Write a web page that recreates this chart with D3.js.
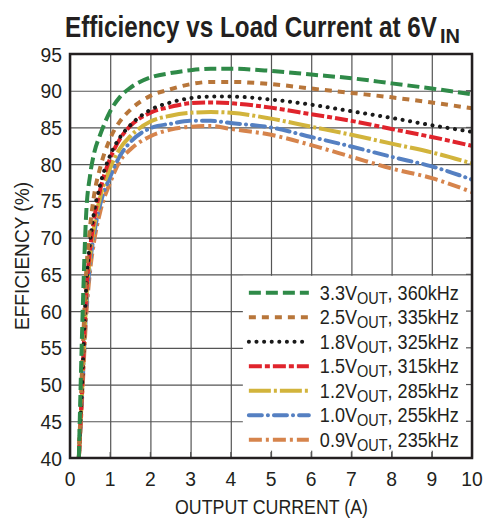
<!DOCTYPE html>
<html>
<head>
<meta charset="utf-8">
<script src="https://cdn.jsdelivr.net/npm/d3@7"></script>
<style>
  body { margin: 0; background: #fff; }
  svg { font-family: "Liberation Sans", Arial, sans-serif; }
</style>
</head>
<body>
<div id="chart"></div>
<script>
// courant de sortie (A)
const current = [0.22, 0.3, 0.4, 0.5, 0.6, 0.75, 1, 1.25, 1.5, 2, 2.5, 3, 3.5, 4, 5, 6, 7, 8, 9, 10];

// rendement (%) pour chaque tension de sortie
const eff33 = [40, 57, 73, 78.5, 81.5, 84, 87.2, 89.2, 90.4, 91.8, 92.4, 92.8, 93.0, 93.0, 92.7, 92.2, 91.7, 91.0, 90.3, 89.5];
const eff25 = [40, 52, 65, 71.5, 75.8, 79.5, 83.5, 85.9, 87.4, 89.3, 90.2, 90.9, 91.2, 91.2, 90.9, 90.3, 89.7, 89.1, 88.4, 87.6];
const eff18 = [40, 50, 63, 69.5, 73.5, 77.2, 81.2, 83.7, 85.3, 87.4, 88.4, 89.0, 89.2, 89.2, 88.8, 88.1, 87.2, 86.3, 85.3, 84.4];
const eff15 = [40, 49.5, 62, 68.5, 72.5, 76.5, 80.8, 83.5, 85.2, 87.0, 87.8, 88.3, 88.4, 88.3, 87.7, 86.8, 85.9, 84.8, 83.7, 82.5];
const eff12 = [40, 49, 61, 67.5, 71.5, 75.5, 79.5, 82.2, 83.8, 85.8, 86.6, 87.0, 87.1, 87.0, 86.2, 85.1, 84.0, 82.8, 81.6, 80.1];
const eff10 = [40, 48.5, 60, 66.5, 70.5, 74.5, 78.3, 81.2, 83.0, 84.9, 85.5, 85.9, 85.9, 85.6, 85.0, 83.7, 82.4, 81.0, 79.7, 77.9];
const eff09 = [40, 48, 59, 65.5, 69.5, 73.5, 77.5, 80.5, 82.0, 83.8, 84.7, 85.1, 85.2, 84.8, 84.0, 82.6, 81.0, 79.4, 78.1, 76.2];

const vouts = ["3.3", "2.5", "1.8", "1.5", "1.2", "1.0", "0.9"];
const freqs = ["360kHz", "335kHz", "325kHz", "315kHz", "285kHz", "255kHz", "235kHz"];

const xTicks = [0, 1, 2, 3, 4, 5, 6, 7, 8, 9, 10];
const yTicks = [40, 45, 50, 55, 60, 65, 70, 75, 80, 85, 90, 95];

const series = [
  { v: eff33, color: "#2f8a48", dash: "12,5", cap: "butt" },
  { v: eff25, color: "#b8763a", dash: "7,6", cap: "butt" },
  { v: eff18, color: "#1a1a1a", dash: "0.1,7.5", cap: "round" },
  { v: eff15, color: "#e0242c", dash: "13,3,5,3", cap: "butt" },
  { v: eff12, color: "#d2b43c", dash: "22,3,3,3", cap: "butt" },
  { v: eff10, color: "#5580c2", dash: "13,6,0.1,6", cap: "round" },
  { v: eff09, color: "#d6844c", dash: "13,4,3,4", cap: "butt" }
];

const width = 494, height = 528;
const margin = { top: 54, right: 22, bottom: 70, left: 70 };
const w = width - margin.left - margin.right;
const h = height - margin.top - margin.bottom;
const ink = "#231f20";
const narrow = 0.88; // police etroite simulee

const svg = d3.select("#chart").append("svg")
  .attr("width", width)
  .attr("height", height);

// titre
svg.append("text")
  .attr("x", 65).attr("y", 37)
  .attr("font-size", 29)
  .attr("font-weight", "bold")
  .attr("fill", ink)
  .attr("textLength", 372)
  .attr("lengthAdjust", "spacingAndGlyphs")
  .text("Efficiency vs Load Current at 6V");
svg.append("text")
  .attr("x", 440).attr("y", 43)
  .attr("font-size", 21)
  .attr("font-weight", "bold")
  .attr("fill", ink)
  .attr("textLength", 20)
  .attr("lengthAdjust", "spacingAndGlyphs")
  .text("IN");

const g = svg.append("g")
  .attr("transform", "translate(" + margin.left + "," + margin.top + ")");

const x = d3.scaleLinear().domain([0, 10]).range([0, w]);
const y = d3.scaleLinear().domain([40, 95]).range([h, 0]);

// grille
g.append("g")
  .attr("transform", "translate(0," + h + ")")
  .call(d3.axisBottom(x).tickValues(xTicks).tickSize(-h).tickFormat(""))
  .call(a => a.select(".domain").remove())
  .call(a => a.selectAll("line").attr("stroke", "#555").attr("stroke-width", 1.2));

g.append("g")
  .call(d3.axisLeft(y).tickValues(yTicks).tickSize(-w).tickFormat(""))
  .call(a => a.select(".domain").remove())
  .call(a => a.selectAll("line").attr("stroke", "#555").attr("stroke-width", 1.2));

const line = d3.line()
  .x((d, i) => x(current[i]))
  .y(d => y(d))
  .curve(d3.curveMonotoneX);

// legende : fond blanc qui cache la grille
const legX = x(4.3), legY = y(64.8);
g.append("rect")
  .attr("x", legX).attr("y", legY)
  .attr("width", w - legX).attr("height", y(41) - legY)
  .attr("fill", "#fff");

// petites graduations sur le cadre
const tick = 6;
xTicks.forEach(t => {
  g.append("line").attr("x1", x(t)).attr("x2", x(t)).attr("y1", h).attr("y2", h - tick)
    .attr("stroke", "#555").attr("stroke-width", 1.2);
});
yTicks.forEach(t => {
  g.append("line").attr("x1", w).attr("x2", w - tick).attr("y1", y(t)).attr("y2", y(t))
    .attr("stroke", "#555").attr("stroke-width", 1.2);
});

svg.append("clipPath").attr("id", "plotclip")
  .append("rect").attr("width", w).attr("height", h);

// courbes
g.append("g").attr("clip-path", "url(#plotclip)")
  .selectAll("path")
  .data(series.slice().reverse())
  .enter()
  .append("path")
  .attr("d", d => line(d.v))
  .attr("fill", "none")
  .attr("stroke", d => d.color)
  .attr("stroke-width", 4)
  .attr("stroke-dasharray", d => d.dash)
  .attr("stroke-linecap", d => d.cap);

// entrees de legende
series.forEach((s, i) => {
  const ly = legY + 17 + i * 24.5;
  g.append("line")
    .attr("x1", legX + 6).attr("x2", legX + 66)
    .attr("y1", ly).attr("y2", ly)
    .attr("stroke", s.color)
    .attr("stroke-width", 4)
    .attr("stroke-dasharray", s.dash)
    .attr("stroke-linecap", s.cap);
  const t = g.append("text")
    .attr("transform", "translate(" + (legX + 77) + "," + (ly + 7) + ") scale(" + narrow + ",1)")
    .attr("font-size", 20.5)
    .attr("fill", ink);
  t.append("tspan").text(vouts[i] + "V");
  t.append("tspan").attr("font-size", 16.5).attr("dy", 4).text("OUT");
  t.append("tspan").attr("dy", -4).text(", " + freqs[i]);
});

// cadre
g.append("rect")
  .attr("width", w).attr("height", h)
  .attr("fill", "none")
  .attr("stroke", ink)
  .attr("stroke-width", 2.5);

// etiquettes des axes
g.selectAll(".xlab").data(xTicks).enter().append("text")
  .attr("transform", d => "translate(" + x(d) + "," + (h + 28) + ") scale(0.92,1)")
  .attr("text-anchor", "middle")
  .attr("font-size", 21)
  .attr("fill", ink)
  .text(d => d);

g.selectAll(".ylab").data(yTicks).enter().append("text")
  .attr("transform", d => "translate(-8," + (y(d) + 7.5) + ") scale(0.92,1)")
  .attr("text-anchor", "end")
  .attr("font-size", 21)
  .attr("fill", ink)
  .text(d => d);

g.append("text")
  .attr("x", 105).attr("y", h + 56)
  .attr("font-size", 21)
  .attr("fill", ink)
  .attr("textLength", 193)
  .attr("lengthAdjust", "spacingAndGlyphs")
  .text("OUTPUT CURRENT (A)");

g.append("text")
  .attr("transform", "translate(-41," + (h / 2) + ") rotate(-90)")
  .attr("text-anchor", "middle")
  .attr("font-size", 20)
  .attr("fill", ink)
  .attr("textLength", 148)
  .attr("lengthAdjust", "spacingAndGlyphs")
  .text("EFFICIENCY (%)");
</script>
</body>
</html>
